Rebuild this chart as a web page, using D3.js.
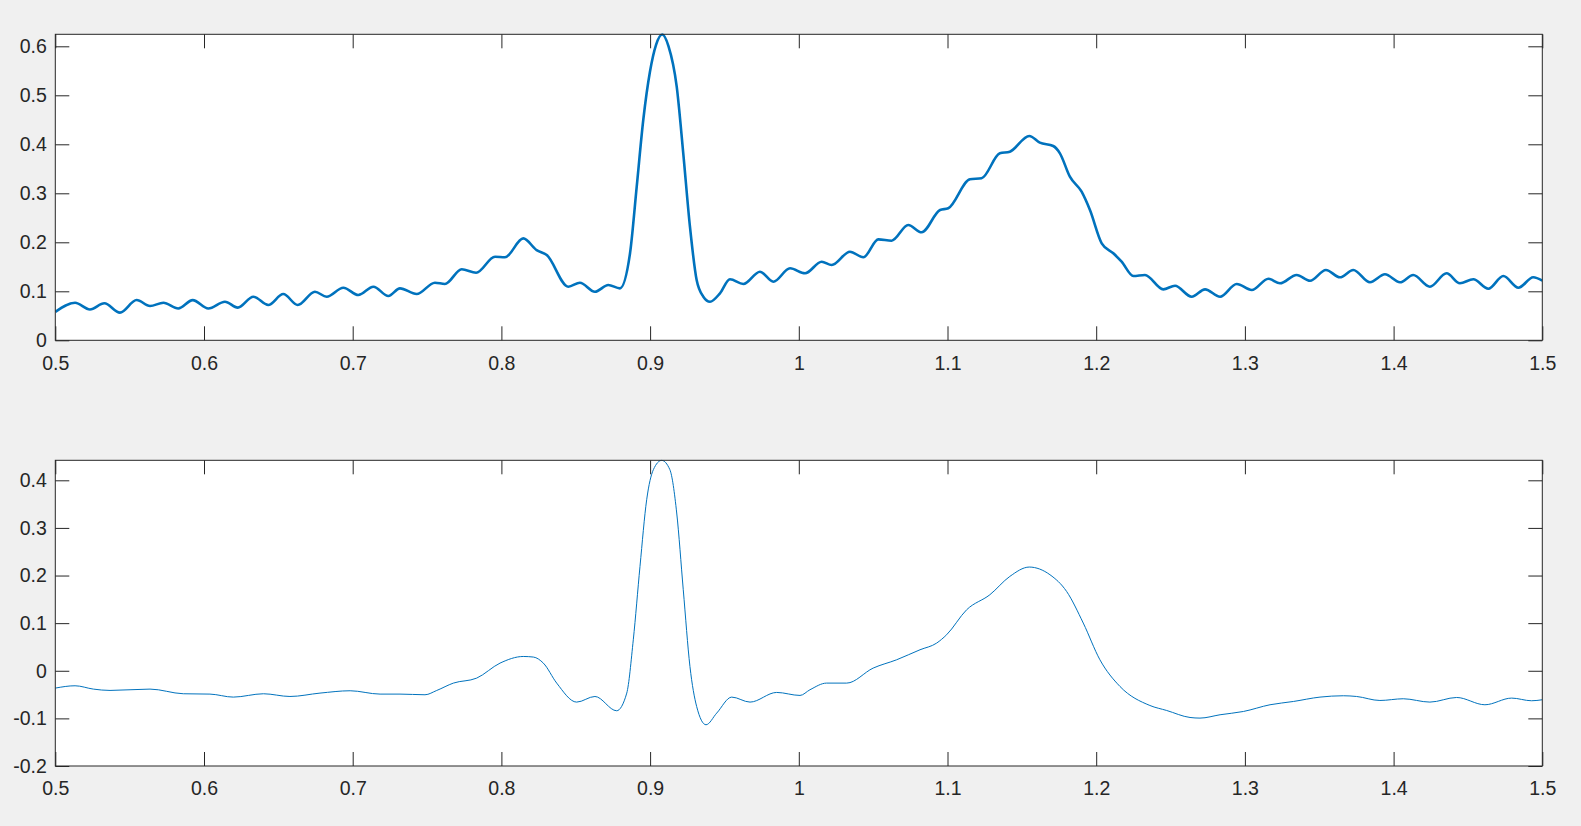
<!DOCTYPE html>
<html>
<head>
<meta charset="utf-8">
<script src="https://cdn.jsdelivr.net/npm/d3@7"></script>
<style>
  html, body { margin: 0; padding: 0; background: #f0f0f0; }
  svg { display: block; }
  text { font-family: "Liberation Sans", Arial, Helvetica, sans-serif; }
</style>
</head>
<body>
<svg id="chart" width="1581" height="826"></svg>
<script>
// ---------- DATA ----------
const xTicks = [0.5, 0.6, 0.7, 0.8, 0.9, 1.0, 1.1, 1.2, 1.3, 1.4, 1.5];
const yTicksTop = [0, 0.1, 0.2, 0.3, 0.4, 0.5, 0.6];
const yTicksBottom = [-0.2, -0.1, 0, 0.1, 0.2, 0.3, 0.4];

// top panel signal
const topX = [0.5, 0.5133, 0.5233, 0.533, 0.5435, 0.5547, 0.5637, 0.5727, 0.5827, 0.5924, 0.6029, 0.6141, 0.6227, 0.6332, 0.6432, 0.6533, 0.663, 0.6746, 0.6825, 0.6937, 0.7038, 0.7139, 0.724, 0.7318, 0.743, 0.7553, 0.762, 0.7733, 0.783, 0.7957, 0.8024, 0.8147, 0.8237, 0.8305, 0.845, 0.8528, 0.8629, 0.8719, 0.8797, 0.8865, 0.891, 0.8954, 0.8999, 0.9040, 0.9082, 0.9124, 0.9179, 0.9223, 0.9268, 0.9313, 0.9358, 0.9403, 0.947, 0.9537, 0.9627, 0.9739, 0.9829, 0.9941, 1.0042, 1.0154, 1.0221, 1.0344, 1.0434, 1.0535, 1.0624, 1.0736, 1.0826, 1.095, 1.1005, 1.1151, 1.1229, 1.1352, 1.1419, 1.155, 1.1621, 1.1711, 1.1756, 1.1823, 1.1902, 1.1958, 1.2037, 1.2115, 1.2171, 1.225, 1.2328, 1.2451, 1.253, 1.2642, 1.2732, 1.2833, 1.2945, 1.3046, 1.3158, 1.3236, 1.3348, 1.3438, 1.3545, 1.3639, 1.3729, 1.3841, 1.3942, 1.4043, 1.4132, 1.4244, 1.4356, 1.4446, 1.4536, 1.4637, 1.4738, 1.4839, 1.4939, 1.5];
const topY = [0.058, 0.0767, 0.063, 0.0755, 0.0564, 0.0822, 0.070, 0.0767, 0.065, 0.082, 0.065, 0.0788, 0.0666, 0.089, 0.072, 0.0945, 0.072, 0.099, 0.089, 0.1074, 0.0925, 0.1094, 0.0904, 0.106, 0.0945, 0.1176, 0.115, 0.145, 0.138, 0.1706, 0.1694, 0.208, 0.184, 0.174, 0.1094, 0.1176, 0.099, 0.1129, 0.106, 0.1776, 0.3135, 0.4496, 0.548, 0.603, 0.624, 0.600, 0.5176, 0.3816, 0.2318, 0.123, 0.089, 0.0788, 0.096, 0.1245, 0.115, 0.14, 0.1196, 0.147, 0.1367, 0.1604, 0.1537, 0.1808, 0.1694, 0.206, 0.2033, 0.2353, 0.2204, 0.2659, 0.2694, 0.3286, 0.3306, 0.3816, 0.3849, 0.417, 0.4033, 0.3965, 0.3816, 0.3339, 0.3033, 0.2659, 0.198, 0.1776, 0.1604, 0.1312, 0.1333, 0.104, 0.1114, 0.089, 0.104, 0.089, 0.115, 0.1027, 0.1257, 0.1163, 0.1333, 0.1216, 0.1435, 0.1286, 0.1435, 0.1184, 0.1347, 0.1184, 0.1333, 0.1094, 0.1367, 0.1163, 0.1245, 0.1053, 0.1312, 0.1074, 0.1286, 0.1216];

// bottom panel signal
const botX = [0.5, 0.5133, 0.5256, 0.5368, 0.5637, 0.5861, 0.604, 0.6197, 0.64, 0.6578, 0.678, 0.6983, 0.7184, 0.7318, 0.7486, 0.7565, 0.7677, 0.7834, 0.7991, 0.8147, 0.8215, 0.8282, 0.8372, 0.8506, 0.8629, 0.8775, 0.8843, 0.8887, 0.8932, 0.8977, 0.9022, 0.9078, 0.9133, 0.9179, 0.9223, 0.9268, 0.9313, 0.9376, 0.9448, 0.9549, 0.9672, 0.9851, 1.0008, 1.0075, 1.0187, 1.0322, 1.05, 1.0658, 1.0815, 1.0927, 1.0994, 1.1129, 1.1285, 1.1419, 1.155, 1.1689, 1.1801, 1.1913, 1.2025, 1.216, 1.2361, 1.2474, 1.2631, 1.2698, 1.2833, 1.299, 1.3169, 1.3326, 1.3505, 1.3662, 1.3751, 1.3908, 1.4065, 1.4244, 1.4424, 1.4614, 1.4794, 1.4928, 1.5];
const botY = [-0.0364, -0.0315, -0.0385, -0.0413, -0.0385, -0.0483, -0.049, -0.0553, -0.0483, -0.054, -0.0469, -0.042, -0.049, -0.049, -0.0504, -0.0414, -0.0259, -0.0154, 0.0161, 0.03, 0.0288, 0.0161, -0.0259, -0.0658, -0.054, -0.084, -0.0469, 0.0651, 0.2191, 0.3592, 0.4223, 0.4418, 0.4223, 0.3313, 0.1702, 0.009, -0.075, -0.1134, -0.0889, -0.0553, -0.0658, -0.0455, -0.0518, -0.0399, -0.0259, -0.0259, 0.0056, 0.0231, 0.0441, 0.0581, 0.0756, 0.1282, 0.1597, 0.1981, 0.2178, 0.2017, 0.1666, 0.1002, 0.0231, -0.033, -0.0729, -0.0834, -0.0981, -0.0994, -0.0924, -0.0855, -0.0714, -0.0645, -0.0553, -0.0525, -0.054, -0.0624, -0.0588, -0.0658, -0.0561, -0.0714, -0.0574, -0.063, -0.0609];

// ---------- LAYOUT ----------
const svg = d3.select("#chart");
const W = 1581, H = 826;
svg.append("rect").attr("width", W).attr("height", H).attr("fill", "#f0f0f0");

const axColor = "#262626";
const lineColor = "#0072BD";
const left = 55.3, right = 1542.3;
const tickLen = 14;
const fmt = d => String(+(+d).toFixed(2));

function panel(top, bottom, yDomain, yTicks, xs, ys, lw) {
  const x = d3.scaleLinear().domain([0.5, 1.5]).range([left, right]);
  const y = d3.scaleLinear().domain(yDomain).range([bottom, top]);
  const g = svg.append("g");

  g.append("rect")
    .attr("x", left).attr("y", top)
    .attr("width", right - left).attr("height", bottom - top)
    .attr("fill", "#ffffff");

  const clipId = "clip" + Math.round(top);
  g.append("clipPath").attr("id", clipId)
    .append("rect").attr("x", left).attr("y", top - 3)
    .attr("width", right - left).attr("height", bottom - top + 6);

  const pts = xs.map((v, i) => [v, ys[i]]);
  const line = d3.line().x(d => x(d[0])).y(d => y(d[1])).curve(d3.curveMonotoneX);
  g.append("path").datum(pts)
    .attr("d", line)
    .attr("fill", "none")
    .attr("stroke", lineColor)
    .attr("stroke-width", lw)
    .attr("stroke-linejoin", "round")
    .attr("clip-path", `url(#${clipId})`);

  const axB = g.append("g").attr("transform", `translate(0,${bottom})`)
    .call(d3.axisBottom(x).tickValues(xTicks).tickFormat(fmt).tickSizeInner(-tickLen).tickSizeOuter(0).tickPadding(15.5));
  const axT = g.append("g").attr("transform", `translate(0,${top})`)
    .call(d3.axisTop(x).tickValues(xTicks).tickFormat("").tickSizeInner(-tickLen).tickSizeOuter(0));
  const axL = g.append("g").attr("transform", `translate(${left},0)`)
    .call(d3.axisLeft(y).tickValues(yTicks).tickFormat(fmt).tickSizeInner(-tickLen).tickSizeOuter(0).tickPadding(8.5));
  const axR = g.append("g").attr("transform", `translate(${right},0)`)
    .call(d3.axisRight(y).tickValues(yTicks).tickFormat("").tickSizeInner(-tickLen).tickSizeOuter(0));

  [axB, axT, axL, axR].forEach(a => {
    a.select(".domain").remove();
    a.selectAll(".tick line").attr("stroke", axColor).attr("stroke-width", 1);
    a.selectAll(".tick text").attr("fill", axColor).style("font-size", "19.5px");
  });

  g.append("rect")
    .attr("x", left).attr("y", top)
    .attr("width", right - left).attr("height", bottom - top)
    .attr("fill", "none").attr("stroke", axColor).attr("stroke-width", 1);
}

panel(34.3, 340.3, [0, 0.6245], yTicksTop, topX, topY, 2.6);
panel(460.3, 766, [-0.2, 0.442], yTicksBottom, botX, botY, 1);
</script>
</body>
</html>
